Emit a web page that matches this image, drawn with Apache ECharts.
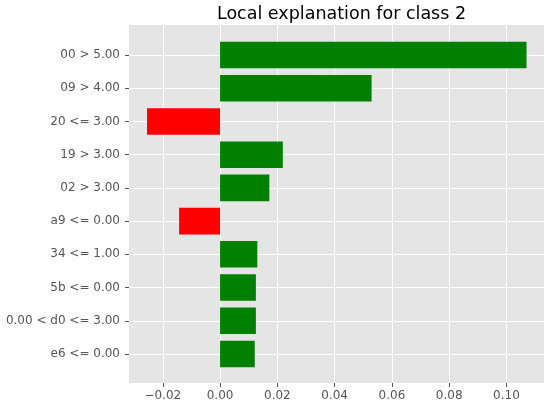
<!DOCTYPE html>
<html><head><meta charset="utf-8">
<script src="https://cdn.jsdelivr.net/npm/echarts@6/dist/echarts.min.js"></script>
<style>html,body{margin:0;padding:0;background:#fff}#c{width:550px;height:408px}</style>
</head><body><div id="c"></div>
<script>
const categories = ['00 > 5.00','09 > 4.00','20 <= 3.00','19 > 3.00','02 > 3.00','a9 <= 0.00','34 <= 1.00','5b <= 0.00','0.00 < d0 <= 3.00','e6 <= 0.00'];
const weights = [0.1070, 0.0529, -0.0255, 0.0219, 0.0172, -0.0143, 0.0130, 0.0125, 0.0125, 0.0121];
const xTicks = [-0.02, 0.00, 0.02, 0.04, 0.06, 0.08, 0.10];
const xMin = -0.0318, xMax = 0.1131;

const chart = echarts.init(document.getElementById('c'), null, {renderer:'canvas'});
const font = 'DejaVu Sans';
chart.setOption({
  animation:false,
  title:{text:'Local explanation for class 2', left:336.5, textAlign:'center', top:0,
    textStyle:{fontFamily:font, fontSize:17.5, fontWeight:'normal', color:'#000'}},
  grid:[
    {left:129, right:6, top:25, bottom:25, show:true, backgroundColor:'#e5e5e5', borderWidth:0},
    {left:129, right:6, top:55, bottom:54}
  ],
  xAxis:[
    {type:'value', gridIndex:0, min:xMin, max:xMax,
     axisLine:{show:false, onZero:false},
     axisTick:{show:true, length:4, lineStyle:{color:'#555'}, customValues:xTicks},
     axisLabel:{fontFamily:font, fontSize:12, color:'#555', margin:7, customValues:xTicks,
       formatter:v=>v.toFixed(2).replace('-','\u2212')},
     splitLine:{show:true, lineStyle:{color:'#fff', width:1}}},
    {type:'value', gridIndex:1, min:xMin, max:xMax, show:false, splitLine:{show:false}}
  ],
  yAxis:[
    {type:'value', gridIndex:0, show:false, splitLine:{show:false}},
    {type:'category', gridIndex:1, data:categories, inverse:true, boundaryGap:false,
     axisLine:{show:false, onZero:false},
     axisTick:{show:true, length:4, lineStyle:{color:'#555'}},
     axisLabel:{fontFamily:font, fontSize:12, color:'#555', margin:9},
     splitLine:{show:true, lineStyle:{color:'#fff', width:1}}}
  ],
  series:[{
    type:'bar', xAxisIndex:1, yAxisIndex:1, data:weights, barWidth:'80%', clip:false,
    itemStyle:{color:p=>p.value>0?'#008000':'#ff0000'}
  }]
});
</script></body></html>
